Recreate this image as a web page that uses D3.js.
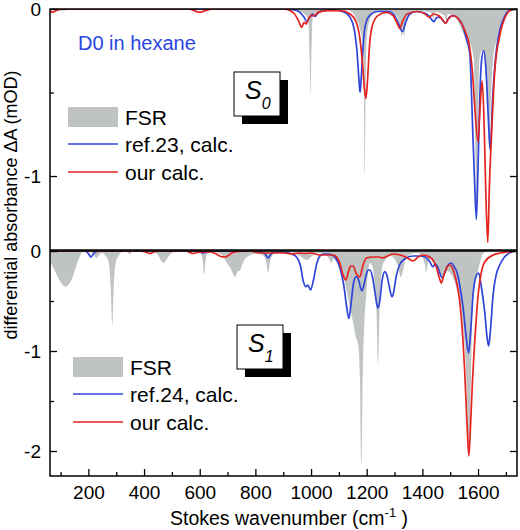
<!DOCTYPE html>
<html>
<head>
<meta charset="utf-8">
<script src="https://cdn.jsdelivr.net/npm/d3@7"></script>
<style>
  body { margin: 0; background: #fff; }
  text { font-family: "Liberation Sans", Arial, sans-serif; }
</style>
</head>
<body>
<div id="chart"></div>
<script>
// x ticks (Stokes wavenumber, cm-1)
const xMajor = [200, 400, 600, 800, 1000, 1200, 1400, 1600];
const xMinor = [100, 300, 500, 700, 900, 1100, 1300, 1500, 1700];
const topMajor = [0, -1];
const topMinor = [-0.5];
const botMajor = [0, -1, -2];
const botMinor = [-0.5, -1.5];

// S0 panel, FSR (grey)
const fsrS0 = [[62,0],[110,-0.01],[140,0],[600,0],[620,-0.005],[640,0],[900,0],[950,-0.01],[975,-0.03],[990,-0.06],[995,-0.3],[998,-0.52],[1001,-0.3],[1006,-0.05],[1020,-0.02],[1040,-0.01],[1100,0],[1140,-0.01],[1160,-0.05],[1172,-0.1],[1180,-0.15],[1186,-0.2],[1190,-0.5],[1193,-0.99],[1196,-0.5],[1200,-0.18],[1210,-0.07],[1230,-0.02],[1280,-0.01],[1310,-0.05],[1322,-0.12],[1326,-0.165],[1330,-0.12],[1334,-0.165],[1338,-0.1],[1350,-0.03],[1380,-0.01],[1430,-0.02],[1440,-0.06],[1446,-0.02],[1480,-0.04],[1486,-0.07],[1492,-0.03],[1520,-0.05],[1540,-0.12],[1555,-0.17],[1570,-0.2],[1585,-0.3],[1591,-0.9],[1595,-1.27],[1599,-0.9],[1605,-0.3],[1615,-0.25],[1625,-0.3],[1635,-0.6],[1640,-0.84],[1645,-0.6],[1655,-0.28],[1665,-0.2],[1680,-0.12],[1695,-0.05],[1705,-0.01],[1715,0],[1740,0]];
// S0 panel, ref.23 calc. (blue)
const ref23 = [[62,0],[900,0],[940,-0.005],[960,-0.02],[975,-0.05],[985,-0.075],[995,-0.05],[1005,-0.03],[1015,-0.045],[1022,-0.03],[1040,-0.01],[1080,-0.005],[1120,-0.02],[1140,-0.05],[1155,-0.12],[1165,-0.25],[1172,-0.42],[1176,-0.5],[1180,-0.42],[1187,-0.22],[1195,-0.1],[1210,-0.04],[1240,-0.015],[1280,-0.015],[1300,-0.04],[1315,-0.09],[1328,-0.136],[1340,-0.08],[1355,-0.03],[1380,-0.015],[1410,-0.025],[1425,-0.045],[1441,-0.076],[1452,-0.05],[1465,-0.05],[1476,-0.075],[1484,-0.086],[1492,-0.06],[1510,-0.04],[1530,-0.06],[1545,-0.1],[1558,-0.18],[1570,-0.26],[1582,-0.78],[1588,-1.05],[1594,-1.26],[1600,-0.95],[1606,-0.55],[1612,-0.32],[1620,-0.25],[1628,-0.35],[1636,-0.62],[1644,-0.85],[1652,-0.55],[1666,-0.245],[1678,-0.13],[1690,-0.066],[1710,-0.01],[1740,0]];
// S0 panel, our calc. (red)
const oursS0 = [[62,-0.01],[70,-0.02],[90,-0.005],[110,0],[560,0],[580,-0.01],[600,-0.02],[620,-0.01],[650,0],[900,0],[935,-0.02],[955,-0.07],[966,-0.11],[975,-0.08],[983,-0.09],[990,-0.06],[1000,-0.04],[1012,-0.04],[1025,-0.02],[1060,-0.01],[1110,-0.01],[1140,-0.03],[1160,-0.07],[1175,-0.17],[1185,-0.33],[1192,-0.48],[1197,-0.535],[1202,-0.45],[1210,-0.22],[1220,-0.1],[1240,-0.04],[1270,-0.02],[1295,-0.04],[1308,-0.08],[1319,-0.116],[1330,-0.07],[1345,-0.03],[1380,-0.015],[1410,-0.03],[1424,-0.05],[1432,-0.04],[1440,-0.03],[1460,-0.04],[1475,-0.07],[1484,-0.086],[1493,-0.06],[1510,-0.04],[1530,-0.06],[1550,-0.12],[1570,-0.23],[1580,-0.38],[1588,-0.58],[1600,-0.795],[1607,-0.6],[1615,-0.43],[1622,-0.7],[1628,-1.1],[1635,-1.397],[1641,-1.05],[1648,-0.77],[1660,-0.375],[1678,-0.16],[1700,-0.04],[1720,-0.005],[1740,0]];

// S1 panel, FSR (grey)
const fsrS1 = [[62,-0.1],[80,-0.2],[100,-0.31],[117,-0.357],[133,-0.32],[146,-0.24],[160,-0.12],[170,-0.05],[178,-0.01],[190,0],[210,-0.01],[222,-0.05],[230,-0.07],[238,-0.04],[250,-0.02],[262,-0.05],[272,-0.1],[280,-0.35],[286,-0.74],[291,-0.35],[298,-0.12],[308,-0.05],[320,-0.01],[340,-0.01],[348,-0.035],[356,-0.01],[380,0],[430,0],[450,-0.04],[462,-0.1],[470,-0.12],[480,-0.09],[495,-0.03],[510,-0.01],[590,0],[605,-0.03],[612,-0.12],[616,-0.24],[620,-0.12],[628,-0.03],[650,-0.01],[680,-0.04],[700,-0.13],[712,-0.18],[720,-0.23],[727,-0.26],[735,-0.21],[745,-0.19],[758,-0.1],[775,-0.05],[800,-0.03],[825,-0.04],[838,-0.1],[846,-0.21],[853,-0.1],[862,-0.04],[880,-0.02],[905,-0.01],[940,-0.02],[960,-0.05],[975,-0.08],[985,-0.09],[1000,-0.06],[1020,-0.02],[1050,-0.03],[1065,-0.08],[1073,-0.12],[1080,-0.08],[1090,-0.1],[1100,-0.15],[1110,-0.22],[1120,-0.3],[1135,-0.5],[1150,-0.7],[1160,-0.85],[1170,-0.95],[1176,-1.3],[1181,-2.13],[1186,-1.2],[1192,-0.7],[1198,-0.45],[1205,-0.2],[1212,-0.12],[1220,-0.15],[1228,-0.3],[1235,-0.6],[1241,-1.13],[1246,-0.6],[1252,-0.25],[1260,-0.12],[1270,-0.08],[1285,-0.05],[1300,-0.08],[1312,-0.15],[1322,-0.26],[1330,-0.2],[1340,-0.08],[1360,-0.03],[1380,-0.02],[1400,-0.06],[1410,-0.15],[1414,-0.21],[1420,-0.12],[1430,-0.08],[1445,-0.12],[1460,-0.2],[1470,-0.25],[1480,-0.22],[1490,-0.2],[1500,-0.22],[1515,-0.3],[1530,-0.45],[1545,-0.7],[1555,-1.1],[1562,-1.6],[1567,-2.0],[1572,-1.6],[1580,-0.6],[1590,-0.3],[1600,-0.2],[1610,-0.08],[1620,-0.02],[1640,0],[1740,0]];
// S1 panel, ref.24 calc. (blue)
const ref24 = [[62,0],[180,0],[195,-0.01],[203,-0.04],[209,-0.06],[215,-0.04],[225,-0.01],[240,0],[580,0],[600,-0.01],[612,-0.02],[622,-0.01],[640,0],[800,0],[825,-0.01],[838,-0.04],[846,-0.07],[854,-0.04],[865,-0.01],[900,-0.01],[930,-0.03],[948,-0.06],[962,-0.15],[972,-0.3],[981,-0.357],[989,-0.34],[998,-0.39],[1008,-0.3],[1020,-0.13],[1032,-0.05],[1045,-0.03],[1060,-0.03],[1075,-0.04],[1091,-0.08],[1105,-0.18],[1118,-0.35],[1128,-0.56],[1136,-0.675],[1144,-0.52],[1152,-0.33],[1160,-0.26],[1165,-0.257],[1172,-0.3],[1178,-0.37],[1183,-0.397],[1190,-0.34],[1198,-0.24],[1205,-0.19],[1211,-0.19],[1220,-0.25],[1230,-0.42],[1236,-0.53],[1241,-0.57],[1247,-0.5],[1255,-0.3],[1265,-0.207],[1272,-0.24],[1280,-0.34],[1286,-0.42],[1291,-0.457],[1297,-0.41],[1305,-0.27],[1318,-0.14],[1342,-0.07],[1366,-0.05],[1390,-0.05],[1410,-0.06],[1425,-0.1],[1438,-0.157],[1446,-0.13],[1455,-0.16],[1465,-0.24],[1472,-0.27],[1480,-0.22],[1490,-0.15],[1504,-0.12],[1515,-0.16],[1525,-0.22],[1534,-0.34],[1546,-0.56],[1556,-0.82],[1566,-1.02],[1574,-0.78],[1582,-0.44],[1592,-0.26],[1602,-0.22],[1612,-0.36],[1624,-0.61],[1632,-0.85],[1638,-0.95],[1645,-0.78],[1654,-0.44],[1665,-0.24],[1678,-0.14],[1695,-0.06],[1713,-0.02],[1740,0]];
// S1 panel, our calc. (red)
const oursS1 = [[62,0],[380,0],[405,-0.01],[421,-0.025],[435,-0.01],[460,0],[550,0],[565,-0.015],[576,-0.025],[590,-0.015],[610,-0.01],[640,-0.01],[660,-0.03],[675,-0.055],[690,-0.06],[700,-0.05],[715,-0.02],[740,-0.005],[780,0],[816,-0.02],[900,-0.02],[935,-0.03],[960,-0.02],[977,-0.025],[1000,-0.02],[1031,-0.04],[1079,-0.04],[1095,-0.07],[1103,-0.12],[1115,-0.24],[1125,-0.29],[1135,-0.2],[1143,-0.15],[1151,-0.15],[1163,-0.23],[1175,-0.26],[1187,-0.14],[1199,-0.07],[1223,-0.06],[1245,-0.06],[1258,-0.07],[1275,-0.05],[1294,-0.03],[1320,-0.04],[1340,-0.06],[1355,-0.085],[1366,-0.1],[1385,-0.06],[1402,-0.04],[1426,-0.06],[1440,-0.1],[1450,-0.16],[1460,-0.26],[1468,-0.32],[1476,-0.25],[1485,-0.18],[1498,-0.14],[1508,-0.17],[1520,-0.28],[1534,-0.5],[1545,-0.85],[1552,-1.2],[1560,-1.7],[1567,-2.05],[1573,-1.75],[1580,-1.3],[1587,-0.95],[1593,-0.7],[1600,-0.45],[1610,-0.24],[1624,-0.11],[1654,-0.04],[1680,-0.02],[1705,-0.01],[1740,0]];

const width = 520, height = 530;
const left = 50, right = 517;
const panels = [
  { top: 9, bottom: 250, domain: [-1.443, 0], major: topMajor, minor: topMinor,
    fsr: fsrS0, blue: ref23, red: oursS0, ref: 'ref.23, calc.', state: '0',
    legend: { x: 68, y: 107 }, box: { x: 234, y: 72 } },
  { top: 251, bottom: 476, domain: [-2.25, 0], major: botMajor, minor: botMinor,
    fsr: fsrS1, blue: ref24, red: oursS1, ref: 'ref.24, calc.', state: '1',
    legend: { x: 73, y: 357 }, box: { x: 237, y: 325 } }
];

const grey = '#bfc4c2', blue = '#2f44d8', red = '#e5231f';

const svg = d3.select('#chart').append('svg')
  .attr('width', width).attr('height', height);

const x = d3.scaleLinear().domain([62, 1740]).range([left, right]);

panels.forEach((p, i) => {
  const y = d3.scaleLinear().domain(p.domain).range([p.bottom, p.top]);
  const g = svg.append('g');

  const clipId = 'clip' + i;
  svg.append('clipPath').attr('id', clipId)
    .append('rect').attr('x', left).attr('y', p.top)
    .attr('width', right - left).attr('height', p.bottom - p.top);

  const plot = g.append('g').attr('clip-path', `url(#${clipId})`);

  const area = d3.area()
    .x(d => x(d[0])).y0(y(0)).y1(d => y(d[1]))
    .curve(d3.curveMonotoneX);
  const line = d3.line()
    .x(d => x(d[0])).y(d => y(d[1]))
    .curve(d3.curveMonotoneX);

  plot.append('path').datum(p.fsr).attr('d', area).attr('fill', grey);
  plot.append('path').datum(p.blue).attr('d', line)
    .attr('fill', 'none').attr('stroke', blue).attr('stroke-width', 1.7);
  plot.append('path').datum(p.red).attr('d', line)
    .attr('fill', 'none').attr('stroke', red).attr('stroke-width', 1.7);

  // y axes, ticks pointing inward
  const yl = g.append('g').attr('transform', `translate(${left},0)`)
    .call(d3.axisLeft(y).tickValues(p.major).tickSize(-7).tickPadding(9)
      .tickFormat(d => d === 0 ? '0' : d3.format('d')(d)));
  g.append('g').attr('transform', `translate(${left},0)`)
    .call(d3.axisLeft(y).tickValues(p.minor).tickSize(-4).tickFormat(''));
  g.append('g').attr('transform', `translate(${right},0)`)
    .call(d3.axisRight(y).tickValues(p.major).tickSize(-7).tickFormat(''));
  g.append('g').attr('transform', `translate(${right},0)`)
    .call(d3.axisRight(y).tickValues(p.minor).tickSize(-4).tickFormat(''));
  g.selectAll('.domain').remove();
  g.selectAll('.tick line').attr('stroke', '#000').attr('stroke-width', 1.3);
  yl.selectAll('text').style('font-size', '19px').attr('fill', '#000')
    .text(d => d === 0 ? '0' : String(d).replace('\u2212', '-'));

  g.append('rect').attr('x', left).attr('y', p.top)
    .attr('width', right - left).attr('height', p.bottom - p.top)
    .attr('fill', 'none').attr('stroke', '#000').attr('stroke-width', 1.5);

  // legend
  const lg = g.append('g').attr('transform', `translate(${p.legend.x},${p.legend.y})`);
  lg.append('rect').attr('width', 50).attr('height', 20).attr('fill', grey);
  lg.append('text').attr('x', 57).attr('y', 18).style('font-size', '21px').text('FSR');
  lg.append('line').attr('x1', 0).attr('x2', 50).attr('y1', 37).attr('y2', 37)
    .attr('stroke', blue).attr('stroke-width', 1.7);
  lg.append('text').attr('x', 57).attr('y', 45).style('font-size', '21px').text(p.ref);
  lg.append('line').attr('x1', 0).attr('x2', 50).attr('y1', 65).attr('y2', 65)
    .attr('stroke', red).attr('stroke-width', 1.7);
  lg.append('text').attr('x', 57).attr('y', 73).style('font-size', '21px').text('our calc.');

  // state box with shadow
  const b = g.append('g').attr('transform', `translate(${p.box.x},${p.box.y})`);
  b.append('rect').attr('x', 8).attr('y', 8).attr('width', 46).attr('height', 44).attr('fill', '#000');
  b.append('rect').attr('x', 0).attr('y', 0).attr('width', 46).attr('height', 44)
    .attr('fill', '#fff').attr('stroke', '#000').attr('stroke-width', 1);
  const st = b.append('text').attr('x', 11).attr('y', 27).style('font-style', 'italic');
  st.append('tspan').style('font-size', '25px').text('S');
  st.append('tspan').attr('dy', 10).style('font-size', '16px').text(p.state);
});

// x axis at bottom, ticks inward
const bottomY = panels[1].bottom;
const xa = svg.append('g').attr('transform', `translate(0,${bottomY})`)
  .call(d3.axisBottom(x).tickValues(xMajor).tickSize(-7).tickPadding(10).tickFormat(d3.format('d')));
const xm = svg.append('g').attr('transform', `translate(0,${bottomY})`)
  .call(d3.axisBottom(x).tickValues(xMinor).tickSize(-4).tickFormat(''));
xa.select('.domain').remove();
xm.select('.domain').remove();
svg.selectAll('.tick line').attr('stroke', '#000').attr('stroke-width', 1.3);
xa.selectAll('text').style('font-size', '19px').attr('fill', '#000');

// annotation
svg.append('text').attr('x', 78).attr('y', 50)
  .style('font-size', '20px').attr('fill', '#2b45e0').text('D0 in hexane');

// axis titles
const xt = svg.append('text').attr('x', 289).attr('y', 525)
  .attr('text-anchor', 'middle').style('font-size', '19.5px');
xt.append('tspan').text('Stokes wavenumber (cm');
xt.append('tspan').attr('dy', -8).style('font-size', '13px').text('-1');
xt.append('tspan').attr('dy', 8).text(' )');

svg.append('text')
  .attr('transform', 'translate(17,205) rotate(-90)')
  .attr('text-anchor', 'middle').style('font-size', '18px')
  .text('differential absorbance \u0394A (mOD)');
</script>
</body>
</html>
